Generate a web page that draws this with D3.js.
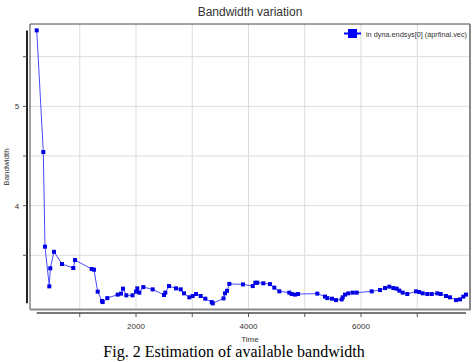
<!DOCTYPE html>
<html>
<head>
<meta charset="utf-8">
<script src="https://cdn.jsdelivr.net/npm/d3@7"></script>
<style>
  body { margin: 0; background: #fff; }
  svg { display: block; font-family: Arial, "Liberation Sans", sans-serif; }
</style>
</head>
<body>
<div id="chart"></div>
<script>
// data
var times = [235,352,382,459,476,542,684,885,916,1212,
  1253,1319,1396,1408,1490,1675,1733,1769,1828,1938,
  2000,2023,2059,2130,2297,2498,2521,2587,2711,2795,
  2853,2948,3008,3067,3150,3232,3346,3364,3556,3582,
  3618,3659,3902,4076,4121,4156,4263,4382,4459,4548,
  4725,4768,4827,4880,5223,5360,5401,5484,5556,5657,
  5675,5716,5774,5852,5924,6190,6338,6427,6503,6574,
  6635,6681,6741,6823,6978,7036,7097,7179,7257,7356,
  7417,7511,7582,7689,7760,7819,7867];
var values = [5.765,4.54,3.587,3.187,3.369,3.535,3.412,3.372,3.452,3.362,
  3.355,3.134,3.039,3.029,3.069,3.104,3.114,3.164,3.097,3.097,
  3.134,3.167,3.124,3.180,3.157,3.100,3.124,3.190,3.167,3.157,
  3.117,3.077,3.090,3.110,3.090,3.063,3.029,3.016,3.066,3.117,
  3.142,3.212,3.207,3.190,3.224,3.224,3.218,3.210,3.174,3.137,
  3.124,3.110,3.104,3.110,3.114,3.084,3.069,3.063,3.049,3.056,
  3.077,3.104,3.117,3.124,3.124,3.137,3.150,3.170,3.184,3.170,
  3.164,3.144,3.124,3.110,3.137,3.130,3.117,3.110,3.110,3.117,
  3.110,3.090,3.077,3.049,3.056,3.084,3.104];
var xTicks = [1000,2000,3000,4000,5000,6000,7000];
var xLabels = [2000,4000,6000];
var yTicks = [3.5,4,4.5,5,5.5];
var yLabels = [4,5];
var seriesName = "in dyna.endsys[0] (aprfinal.vec)";

var W = 474, H = 362;
var frame = {left: 30, top: 24, right: 470, bottom: 309.5};

var svg = d3.select("#chart").append("svg")
  .attr("width", W).attr("height", H);

var x = d3.scaleLinear().domain([2000, 6000]).range([136, 361]);
var y = d3.scaleLinear().domain([3.5, 5.5]).range([255.3, 56.7]);

// grid
svg.selectAll(".vgrid").data(xTicks).enter().append("line")
  .attr("x1", d => x(d)).attr("x2", d => x(d))
  .attr("y1", frame.top).attr("y2", frame.bottom)
  .attr("stroke", "#dcdcdc").attr("stroke-width", 1);
svg.selectAll(".hgrid").data(yTicks).enter().append("line")
  .attr("x1", frame.left).attr("x2", frame.right)
  .attr("y1", d => y(d)).attr("y2", d => y(d))
  .attr("stroke", "#dcdcdc").attr("stroke-width", 1);

// plot frame (dark top/left, grey shadow bottom/right)
svg.append("path")
  .attr("d", "M" + frame.left + "," + frame.bottom + "V" + frame.top + "H" + frame.right)
  .attr("fill", "none").attr("stroke", "#444").attr("stroke-width", 1);
svg.append("path")
  .attr("d", "M" + frame.left + "," + frame.bottom + "H" + frame.right + "V" + frame.top)
  .attr("fill", "none").attr("stroke", "#8a8a8a").attr("stroke-width", 2);

// axes span the data range
var tExt = d3.extent(times), vExt = d3.extent(values);
var xAxisY = 313, yAxisX = 27;
svg.append("line")
  .attr("x1", x(tExt[0])).attr("x2", x(tExt[1]))
  .attr("y1", xAxisY).attr("y2", xAxisY)
  .attr("stroke", "#777").attr("stroke-width", 2);
svg.append("line")
  .attr("x1", yAxisX).attr("x2", yAxisX)
  .attr("y1", y(vExt[1])).attr("y2", y(vExt[0]))
  .attr("stroke", "#222").attr("stroke-width", 2);

svg.selectAll(".xtick").data(xTicks).enter().append("line")
  .attr("x1", d => x(d)).attr("x2", d => x(d))
  .attr("y1", xAxisY).attr("y2", xAxisY + 4)
  .attr("stroke", "#555");
svg.selectAll(".ytick").data(yTicks).enter().append("line")
  .attr("x1", yAxisX - 4).attr("x2", yAxisX)
  .attr("y1", d => y(d)).attr("y2", d => y(d))
  .attr("stroke", "#555");

svg.selectAll(".xlab").data(xLabels).enter().append("text")
  .attr("x", d => x(d)).attr("y", 329)
  .attr("text-anchor", "middle").attr("font-size", 8).attr("fill", "#333")
  .text(d => d);
svg.selectAll(".ylab").data(yLabels).enter().append("text")
  .attr("x", 17).attr("y", d => y(d) + 3)
  .attr("text-anchor", "middle").attr("font-size", 8).attr("fill", "#333")
  .text(d => d);

// titles
svg.append("text").attr("x", 250).attr("y", 16)
  .attr("text-anchor", "middle").attr("font-size", 12).attr("fill", "#333")
  .text("Bandwidth variation");
svg.append("text").attr("x", 250).attr("y", 342)
  .attr("text-anchor", "middle").attr("font-size", 8).attr("fill", "#333")
  .text("Time");
svg.append("text")
  .attr("transform", "translate(9,167) rotate(-90)")
  .attr("text-anchor", "middle").attr("font-size", 8).attr("fill", "#333")
  .text("Bandwidth");

// series
var pts = times.map((t, i) => [t, values[i]]);
svg.append("path")
  .datum(pts)
  .attr("d", d3.line().x(d => x(d[0])).y(d => y(d[1])))
  .attr("fill", "none").attr("stroke", "#4a4aff").attr("stroke-width", 1);
svg.selectAll(".pt").data(pts).enter().append("rect")
  .attr("x", d => x(d[0]) - 2).attr("y", d => y(d[1]) - 2)
  .attr("width", 4).attr("height", 4)
  .attr("fill", "#0000e6");

// legend
svg.append("line").attr("x1", 344).attr("x2", 361).attr("y1", 33.5).attr("y2", 33.5)
  .attr("stroke", "#0000ff").attr("stroke-width", 2);
svg.append("rect").attr("x", 348).attr("y", 29).attr("width", 9).attr("height", 9)
  .attr("fill", "#0000ff");
svg.append("text").attr("x", 366).attr("y", 36.5)
  .attr("font-size", 7.5).attr("fill", "#333")
  .attr("textLength", 101).attr("lengthAdjust", "spacingAndGlyphs")
  .text(seriesName);

// caption
svg.append("text").attr("x", 234).attr("y", 357)
  .attr("text-anchor", "middle")
  .style("font-family", "'Liberation Serif', 'Times New Roman', serif")
  .attr("font-size", 16).attr("fill", "#000")
  .text("Fig. 2 Estimation of available bandwidth");
</script>
</body>
</html>
